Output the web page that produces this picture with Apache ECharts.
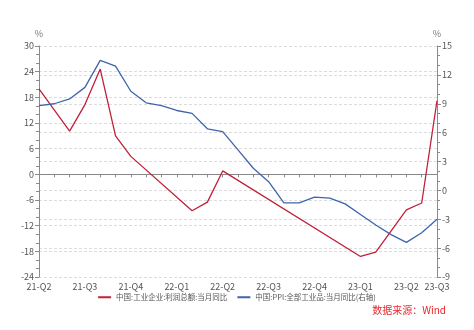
<!DOCTYPE html>
<html><head><meta charset="utf-8">
<script src="https://cdn.jsdelivr.net/npm/echarts@6/dist/echarts.min.js"></script>
<style>html,body{margin:0;padding:0;background:#fff}#c{width:474px;height:330px}</style>
</head><body><div id="c"></div>
<script>
var months = ['2021-06','2021-07','2021-08','2021-09','2021-10','2021-11','2021-12',
  '2022-01','2022-02','2022-03','2022-04','2022-05','2022-06','2022-07','2022-08','2022-09',
  '2022-10','2022-11','2022-12','2023-01','2023-02','2023-03','2023-04','2023-05','2023-06',
  '2023-07','2023-08'];
var profitYoY = [20.0,null,10.1,16.3,24.6,9.0,4.2,
  null,null,null,-8.5,-6.5,0.8,null,null,null,
  null,null,null,null,null,-19.2,-18.2,null,-8.3,
  -6.7,17.2];
var ppiYoY = [8.8,9.0,9.5,10.7,13.5,12.9,10.3,
  9.1,8.8,8.3,8.0,6.4,6.1,4.2,2.3,0.9,
  -1.3,-1.3,-0.7,-0.8,-1.4,-2.5,-3.6,-4.6,-5.4,
  -4.4,-3.0];
var seriesNames = ['中国:工业企业:利润总额:当月同比','中国:PPI:全部工业品:当月同比(右轴)'];

function quarterLabel(m){
  var y = m.slice(2,4), mo = parseInt(m.slice(5,7),10);
  return y + '-Q' + Math.ceil(mo/3);
}
var font = '"Noto Sans CJK SC", sans-serif';
var axisCommon = {
  axisLine:{show:true,lineStyle:{color:'#8a8a8a',width:1}},
  axisTick:{show:true,length:4,lineStyle:{color:'#8a8a8a'}},
  minorTick:{show:true,splitNumber:3,length:3,lineStyle:{color:'#8a8a8a'}},
  splitLine:{show:true,lineStyle:{color:'#dcdcdc',type:[3,2],width:1}},
  axisLabel:{color:'#555',fontSize:9,fontFamily:font,margin:5},
  nameTextStyle:{color:'#777',fontSize:9,fontFamily:font}
};
var chart = echarts.init(document.getElementById('c'));
chart.setOption({
  animation:false,
  grid:{left:39,right:37,top:46,bottom:53},
  legend:{bottom:24,left:'center',itemWidth:13,itemHeight:2,itemGap:10,icon:'rect',
    textStyle:{color:'#555',fontSize:7.5,fontFamily:font},
    data:seriesNames},
  graphic:[{type:'text',right:28,top:305,style:{text:'数据来源：Wind',fill:'#e8262c',fontSize:10,fontFamily:font}}],
  xAxis:{type:'category',data:months,boundaryGap:false,
    axisLine:{lineStyle:{color:'#8a8a8a'}},
    axisTick:{show:true,length:3,interval:0,lineStyle:{color:'#8a8a8a'}},
    axisLabel:{color:'#555',fontSize:9,fontFamily:font,margin:5,
      interval:function(i){return i%3===0 || i===months.length-1;},
      formatter:function(v){return quarterLabel(v);}},
    splitLine:{show:false}
  },
  yAxis:[
    Object.assign({},axisCommon,{type:'value',min:-24,max:30,interval:6,position:'left',name:'%',nameGap:8}),
    Object.assign({},axisCommon,{type:'value',min:-9,max:15,interval:3,position:'right',name:'%',nameGap:8})
  ],
  series:[
    {name:seriesNames[0],type:'line',yAxisIndex:0,data:profitYoY,connectNulls:true,showSymbol:false,
      lineStyle:{color:'#c0203a',width:1.3},itemStyle:{color:'#c0203a'}},
    {name:seriesNames[1],type:'line',yAxisIndex:1,data:ppiYoY,showSymbol:false,
      lineStyle:{color:'#3d65ab',width:1.3},itemStyle:{color:'#3d65ab'}}
  ]
});
</script></body></html>
